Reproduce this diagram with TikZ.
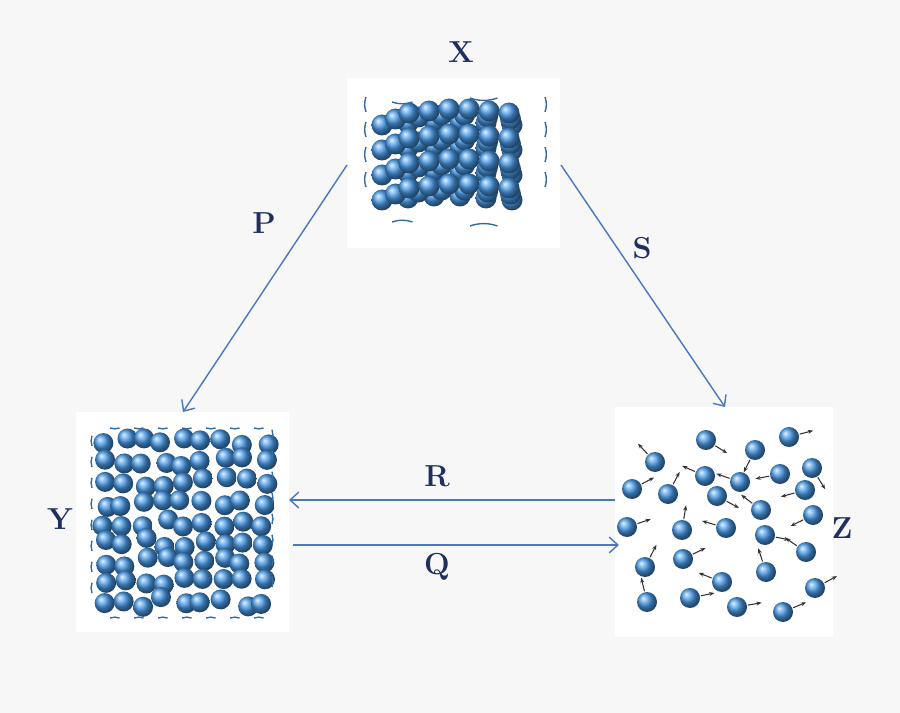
\documentclass[tikz,border=0pt]{standalone}
\usetikzlibrary{positioning}
\usetikzlibrary{arrows.meta}
\usetikzlibrary{calc}
\usepackage{xcolor}
\definecolor{bgray}{HTML}{F7F7F7}
\definecolor{navy}{HTML}{1F2F5F}
\definecolor{steel}{HTML}{4A78BE}
\definecolor{ballblue}{HTML}{4A9BE8}
\tikzset{
  panel/.style={fill=white, draw=none, inner sep=0pt},
  label/.style={text=navy, font=\bfseries\LARGE},
  link/.style={draw=steel, thick, -{Straight Barb[length=5pt,width=9pt]}},
  ball/.style={ball color=ballblue},
  wave/.style={draw=ballblue!70!black, thick},
  kick/.style={draw=black!80, -{Stealth[length=3pt]}, semithick}
}
\begin{document}
\begin{tikzpicture}[x=0.02cm, y=-0.02cm]
\fill[bgray] (0,0) rectangle (900,713);
% panels
\node[panel, minimum width=4.26cm, minimum height=3.4cm] (solid) at (453.5,163) {};
\node[panel, minimum width=4.26cm, minimum height=4.4cm] (liquid) at (182.5,522) {};
\node[panel, minimum width=4.36cm, minimum height=4.6cm] (gas) at (724,522) {};
% solid lattice
\foreach \l in {0,1,2} {
  \foreach \i in {0,...,5} {
    \foreach \j in {0,...,3} {
      \pgfmathsetmacro{\px}{382+26*\i+6*\l-3*\l*(\i-2.5)}
      \pgfmathsetmacro{\py}{120+25*\j-6*\l+2*abs(\i-2.5)}
      \shade[ball] (\px,\py) circle (10.5);
    }
  }
}
\foreach \j in {0,...,3} {
  \draw[wave] (366,{112+25*\j}) arc (160:200:22);
  \draw[wave] (545,{112+25*\j}) arc (20:-20:22);
}
\draw[wave] (392,102) arc (110:70:30);
\draw[wave] (470,98) arc (110:70:40);
\draw[wave] (392,222) arc (250:290:30);
\draw[wave] (470,226) arc (250:290:40);
% liquid
\pgfmathsetseed{7}
\foreach \i in {0,...,8} {
  \foreach \j in {0,...,8} {
    \pgfmathsetmacro{\px}{104+20*\i+5*rand}
    \pgfmathsetmacro{\py}{442+20*\j+5*rand}
    \shade[ball] (\px,\py) circle (10);
  }
}
\foreach \j in {0,...,7} {
  \draw[wave] (92,{446+21*\j}) arc (160:200:15);
  \draw[wave] (272,{440+21*\j}) arc (20:-20:15);
}
\foreach \i in {0,...,6} {
  \draw[wave] ({110+24*\i},428) arc (110:70:14);
  \draw[wave] ({110+24*\i},618) arc (250:290:14);
}
% gas
\pgfmathsetseed{3}
\foreach \px/\py in {706/440,755/450,789/437,655/462,705/476,740/482,780/474,812/468,
  632/489,668/494,717/496,761/510,805/490,627/527,682/530,726/528,765/535,813/515,
  645/567,683/559,722/582,766/572,806/552,647/602,690/598,737/607,783/612,815/588} {
  \shade[ball] (\px,\py) circle (10);
  \pgfmathsetmacro{\ang}{360*rnd}
  \draw[kick] ($(\px,\py)+(\ang:11)$) -- ($(\px,\py)+(\ang:25)$);
}
% labels
\node[label] (lx) at (461,52) {X};
\node[label] (ly) at (60,519) {Y};
\node[label] (lz) at (842,528) {Z};
% transitions
\coordinate (pa) at (347,165); \coordinate (pb) at (183,412);
\coordinate (sa) at (561,165); \coordinate (sb) at (725,407);
\coordinate (ra) at (615,500); \coordinate (rb) at (289,500);
\coordinate (qa) at (293,545); \coordinate (qb) at (619,545);
\draw[link] (pa) -- (pb);
\draw[link] (sa) -- (sb);
\draw[link] (ra) -- (rb);
\draw[link] (qa) -- (qb);
\node[label] (lp) at (264,223) {P};
\node[label] (ls) at (642,248) {S};
\node[label] (lr) at (437,476) {R};
\node[label] (lq) at (437,567) {Q};
\end{tikzpicture}
\end{document}
